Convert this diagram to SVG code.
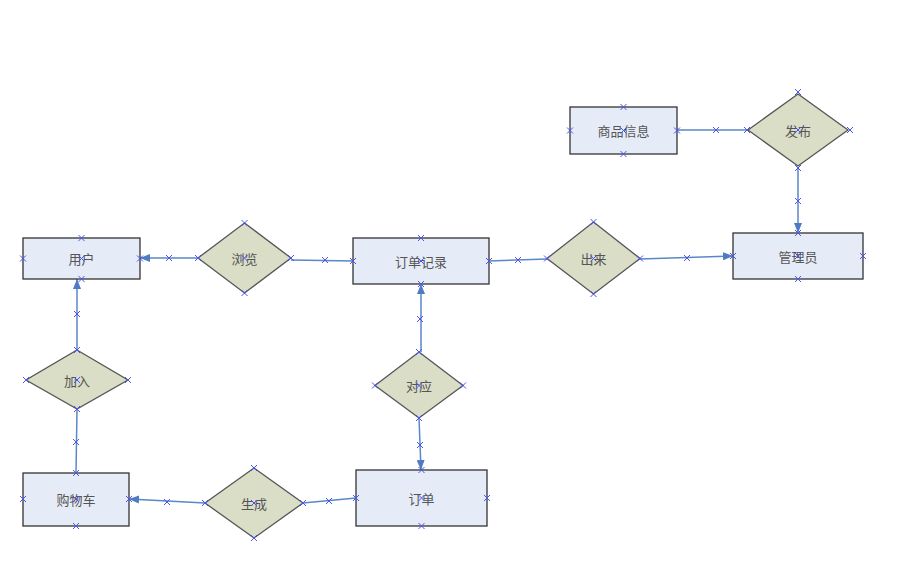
<svg xmlns="http://www.w3.org/2000/svg" xmlns:xlink="http://www.w3.org/1999/xlink" width="907" height="563" viewBox="0 0 907 563">
<style>
.ent{fill:#E6ECF7;stroke:#333;stroke-width:1.3}
.rel{fill:#DADEC7;stroke:#555;stroke-width:1.3}
.lbl{font-family:"Noto Sans CJK SC","Liberation Sans",sans-serif;font-size:13px;fill:#555;text-anchor:middle;dominant-baseline:central}
.con{fill:none;stroke:#5B86C8;stroke-width:1.5}
.xm{fill:none;stroke:#4A55F0;stroke-width:1}
</style>
<defs>
<marker id="arr" viewBox="0 0 10 8" refX="10" refY="4" markerWidth="10" markerHeight="8" markerUnits="userSpaceOnUse" orient="auto">
<path d="M0,0L10,4L0,8z" fill="#4F7BC4"/>
</marker>
<path id="x" class="xm" d="M-3,-3L3,3M-3,3L3,-3"/>
</defs>
<rect width="907" height="563" fill="#fff"/>
<g id="connectors">
<path class="con" d="M198,258L140,258" marker-end="url(#arr)"/>
<path class="con" d="M291,260L353,261"/>
<path class="con" d="M489,261L547,259"/>
<path class="con" d="M640,259L733,256" marker-end="url(#arr)"/>
<path class="con" d="M677,130L748,130"/>
<path class="con" d="M798,167L798,233" marker-end="url(#arr)"/>
<path class="con" d="M421,352L421,284" marker-end="url(#arr)"/>
<path class="con" d="M419,418L421,470" marker-end="url(#arr)"/>
<path class="con" d="M356,498L303,503"/>
<path class="con" d="M205,503L129,499" marker-end="url(#arr)"/>
<path class="con" d="M76,473L77,409"/>
<path class="con" d="M77,350L77,279" marker-end="url(#arr)"/>
<use xlink:href="#x" x="169" y="258"/>
<use xlink:href="#x" x="325" y="260"/>
<use xlink:href="#x" x="518" y="260"/>
<use xlink:href="#x" x="687" y="258"/>
<use xlink:href="#x" x="716" y="130"/>
<use xlink:href="#x" x="798" y="201"/>
<use xlink:href="#x" x="420" y="319"/>
<use xlink:href="#x" x="420" y="445"/>
<use xlink:href="#x" x="329" y="501"/>
<use xlink:href="#x" x="167" y="502"/>
<use xlink:href="#x" x="76" y="442"/>
<use xlink:href="#x" x="77" y="314"/>
</g>
<g id="n-user">
<rect class="ent" x="23" y="238" width="117" height="41"/>
<text class="lbl" x="81.5" y="258.5">用户</text>
<use xlink:href="#x" x="81.5" y="238"/><use xlink:href="#x" x="81.5" y="279"/><use xlink:href="#x" x="23" y="258.5"/><use xlink:href="#x" x="140" y="258.5"/><use xlink:href="#x" x="81.5" y="258.5"/>
</g>
<g id="n-browse">
<polygon class="rel" points="244.5,223 291,258 244.5,293 198,258"/>
<text class="lbl" x="244.5" y="258">浏览</text>
<use xlink:href="#x" x="244.5" y="223"/><use xlink:href="#x" x="291" y="258"/><use xlink:href="#x" x="244.5" y="293"/><use xlink:href="#x" x="198" y="258"/><use xlink:href="#x" x="244.5" y="258"/>
</g>
<g id="n-orderrec">
<rect class="ent" x="353" y="238" width="136" height="46"/>
<text class="lbl" x="421" y="261">订单记录</text>
<use xlink:href="#x" x="421" y="238"/><use xlink:href="#x" x="421" y="284"/><use xlink:href="#x" x="353" y="261"/><use xlink:href="#x" x="489" y="261"/><use xlink:href="#x" x="421" y="261"/>
</g>
<g id="n-out">
<polygon class="rel" points="593.5,222 640,258.5 593.5,294 547,258.5"/>
<text class="lbl" x="593.5" y="258">出来</text>
<use xlink:href="#x" x="593.5" y="222"/><use xlink:href="#x" x="640" y="258.5"/><use xlink:href="#x" x="593.5" y="294"/><use xlink:href="#x" x="547" y="258.5"/><use xlink:href="#x" x="593.5" y="258.5"/>
</g>
<g id="n-admin">
<rect class="ent" x="733" y="233" width="130" height="46"/>
<text class="lbl" x="798" y="256">管理员</text>
<use xlink:href="#x" x="798" y="233"/><use xlink:href="#x" x="798" y="279"/><use xlink:href="#x" x="733" y="256"/><use xlink:href="#x" x="863" y="256"/><use xlink:href="#x" x="798" y="256"/>
</g>
<g id="n-goods">
<rect class="ent" x="570" y="107" width="107" height="47"/>
<text class="lbl" x="623.5" y="130.5">商品信息</text>
<use xlink:href="#x" x="623.5" y="107"/><use xlink:href="#x" x="623.5" y="154"/><use xlink:href="#x" x="570" y="130.5"/><use xlink:href="#x" x="677" y="130.5"/><use xlink:href="#x" x="623.5" y="130.5"/>
</g>
<g id="n-publish">
<polygon class="rel" points="798,94 848,130 798,166 748,130"/>
<text class="lbl" x="798" y="130">发布</text>
<use xlink:href="#x" x="798" y="92"/><use xlink:href="#x" x="850" y="130"/><use xlink:href="#x" x="798" y="168"/><use xlink:href="#x" x="747" y="130"/><use xlink:href="#x" x="798" y="130"/>
</g>
<g id="n-match">
<polygon class="rel" points="419,352 463,385.5 419,418 375,385.5"/>
<text class="lbl" x="419" y="385">对应</text>
<use xlink:href="#x" x="419" y="352"/><use xlink:href="#x" x="463" y="385.5"/><use xlink:href="#x" x="419" y="418"/><use xlink:href="#x" x="375" y="385.5"/><use xlink:href="#x" x="419" y="385.5"/>
</g>
<g id="n-order">
<rect class="ent" x="356" y="470" width="131" height="56"/>
<text class="lbl" x="421.5" y="498">订单</text>
<use xlink:href="#x" x="421.5" y="470"/><use xlink:href="#x" x="421.5" y="526"/><use xlink:href="#x" x="356" y="498"/><use xlink:href="#x" x="487" y="498"/><use xlink:href="#x" x="421.5" y="498"/>
</g>
<g id="n-gen">
<polygon class="rel" points="254,468 303,503 254,538 205,503"/>
<text class="lbl" x="254" y="503">生成</text>
<use xlink:href="#x" x="254" y="468"/><use xlink:href="#x" x="303" y="503"/><use xlink:href="#x" x="254" y="538"/><use xlink:href="#x" x="205" y="503"/><use xlink:href="#x" x="254" y="503"/>
</g>
<g id="n-cart">
<rect class="ent" x="23" y="473" width="106" height="53"/>
<text class="lbl" x="76" y="499">购物车</text>
<use xlink:href="#x" x="76" y="473"/><use xlink:href="#x" x="76" y="526"/><use xlink:href="#x" x="23" y="499"/><use xlink:href="#x" x="129" y="499"/><use xlink:href="#x" x="76" y="499"/>
</g>
<g id="n-join">
<polygon class="rel" points="77,350 128,380 77,409 26,380"/>
<text class="lbl" x="77" y="380">加入</text>
<use xlink:href="#x" x="77" y="350"/><use xlink:href="#x" x="128" y="380"/><use xlink:href="#x" x="77" y="409"/><use xlink:href="#x" x="26" y="380"/><use xlink:href="#x" x="77" y="380"/>
</g>
</svg>
